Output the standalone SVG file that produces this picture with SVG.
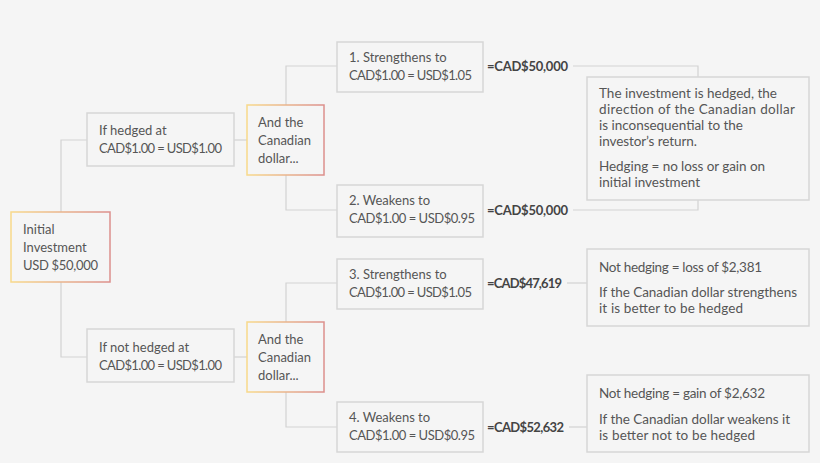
<svg xmlns="http://www.w3.org/2000/svg" width="820" height="463" viewBox="0 0 820 463">
<defs>
<linearGradient id="warm" x1="0" y1="0" x2="1" y2="0">
<stop offset="0" stop-color="#f8d98a"/>
<stop offset="1" stop-color="#dc8f8c"/>
</linearGradient>
<style>
.bg{fill:#f5f5f5}
.box{fill:#f5f5f5;stroke:#d6d6d6;stroke-width:1.5}
.hot{fill:#f5f5f5;stroke:url(#warm);stroke-width:1.5}
.ln{fill:none;stroke:#d3d3d3;stroke-width:1.2}
text{font-family:Lato,"Open Sans","Liberation Sans",sans-serif;font-size:13px;fill:#565656}
.res{font-weight:bold;fill:#444}
.inf{font-size:13.5px}
</style>
</defs>
<rect class="bg" x="0" y="0" width="820" height="463"/>
<g id="connectors">
<path class="ln" d="M61,212 V140 H87"/>
<path class="ln" d="M61,282 V357 H87"/>
<path class="ln" d="M234,140 H247"/>
<path class="ln" d="M234,357 H247"/>
<path class="ln" d="M286,105 V66 H337"/>
<path class="ln" d="M286,175 V210 H337"/>
<path class="ln" d="M286,322 V283 H337"/>
<path class="ln" d="M286,392 V427 H337"/>
<path class="ln" d="M573,66 H698 V77"/>
<path class="ln" d="M573,210 H698 V200"/>
<path class="ln" d="M567,283 H587"/>
<path class="ln" d="M569,427 H587"/>
</g>
<g id="initial">
<rect class="hot" x="11" y="212" width="99" height="70"/>
<text x="23" y="234">Initial</text>
<text x="23" y="252">Investment</text>
<text x="23" y="270" textLength="75">USD $50,000</text>
</g>
<g id="hedged">
<rect class="box" x="87" y="113" width="147" height="53"/>
<text x="99" y="135">If hedged at</text>
<text x="99" y="153" textLength="123">CAD$1.00 = USD$1.00</text>
</g>
<g id="nothedged">
<rect class="box" x="87" y="329" width="147" height="53"/>
<text x="99" y="352">If not hedged at</text>
<text x="99" y="370" textLength="123">CAD$1.00 = USD$1.00</text>
</g>
<g id="cad1">
<rect class="hot" x="247" y="105" width="77" height="70"/>
<text x="258" y="127">And the</text>
<text x="258" y="145">Canadian</text>
<text x="258" y="163">dollar...</text>
</g>
<g id="cad2">
<rect class="hot" x="247" y="322" width="77" height="70"/>
<text x="258" y="344">And the</text>
<text x="258" y="362">Canadian</text>
<text x="258" y="380">dollar...</text>
</g>
<g id="s1">
<rect class="box" x="337" y="42" width="146" height="50"/>
<text x="349" y="62">1. Strengthens to</text>
<text x="349" y="80" textLength="123">CAD$1.00 = USD$1.05</text>
<text class="res" x="487" y="71" textLength="81">=CAD$50,000</text>
</g>
<g id="w2">
<rect class="box" x="337" y="185" width="146" height="52"/>
<text x="349" y="205">2. Weakens to</text>
<text x="349" y="223" textLength="126">CAD$1.00 = USD$0.95</text>
<text class="res" x="487" y="215" textLength="81">=CAD$50,000</text>
</g>
<g id="s3">
<rect class="box" x="337" y="259" width="146" height="50"/>
<text x="349" y="279">3. Strengthens to</text>
<text x="349" y="297" textLength="123">CAD$1.00 = USD$1.05</text>
<text class="res" x="487" y="288" textLength="75">=CAD$47,619</text>
</g>
<g id="w4">
<rect class="box" x="337" y="402" width="146" height="50"/>
<text x="349" y="422">4. Weakens to</text>
<text x="349" y="440" textLength="126">CAD$1.00 = USD$0.95</text>
<text class="res" x="487" y="432" textLength="77">=CAD$52,632</text>
</g>
<g id="info1">
<rect class="box" x="587" y="77" width="222" height="123"/>
<text class="inf" x="599" y="98" textLength="178">The investment is hedged, the</text>
<text class="inf" x="599" y="114" textLength="196">direction of the Canadian dollar</text>
<text class="inf" x="599" y="130" textLength="144">is inconsequential to the</text>
<text class="inf" x="599" y="146" textLength="98">investor’s return.</text>
<text class="inf" x="599" y="171" textLength="166">Hedging = no loss or gain on</text>
<text class="inf" x="599" y="187" textLength="101">initial investment</text>
</g>
<g id="info3">
<rect class="box" x="587" y="249" width="222" height="77"/>
<text class="inf" x="599" y="272" textLength="163">Not hedging = loss of $2,381</text>
<text class="inf" x="599" y="297" textLength="198">If the Canadian dollar strengthens</text>
<text class="inf" x="599" y="313" textLength="144">it is better to be hedged</text>
</g>
<g id="info4">
<rect class="box" x="587" y="375" width="222" height="77"/>
<text class="inf" x="599" y="398" textLength="166">Not hedging = gain of $2,632</text>
<text class="inf" x="599" y="424" textLength="191">If the Canadian dollar weakens it</text>
<text class="inf" x="599" y="440" textLength="156">is better not to be hedged</text>
</g>
</svg>
